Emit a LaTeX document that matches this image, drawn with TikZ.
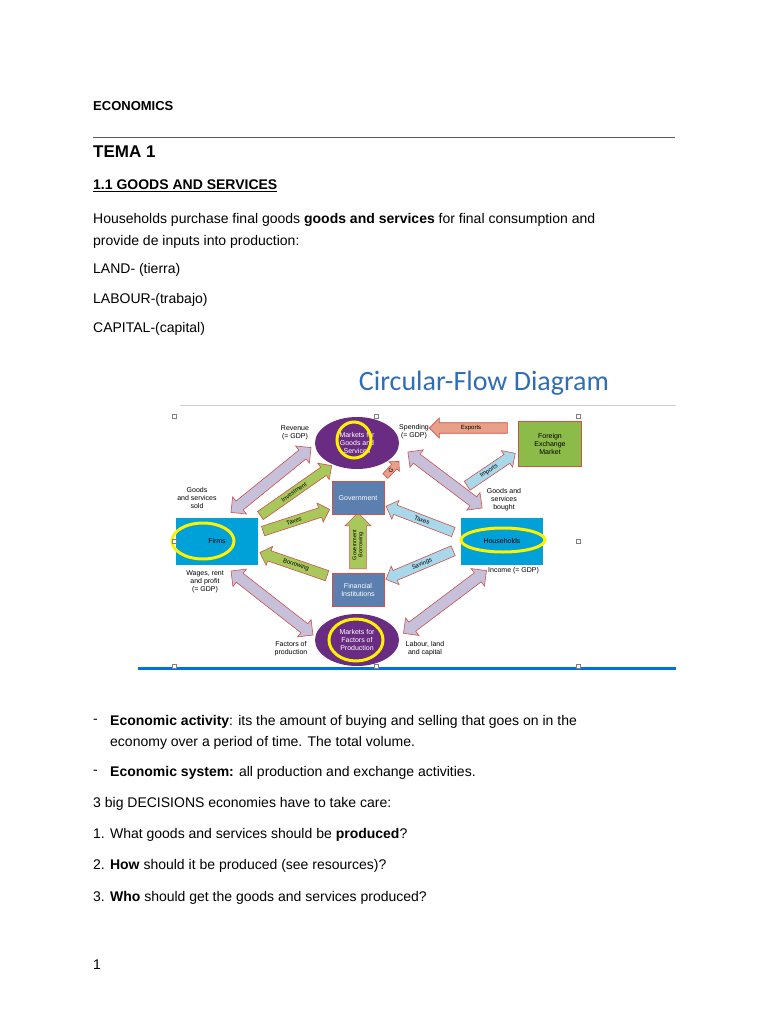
\documentclass[tikz,border=0pt]{standalone}
\usepackage{fontspec}
\setmainfont{Liberation Sans}
\newfontfamily\calib{Carlito}
\usetikzlibrary{shapes.arrows,shapes.geometric}
\definecolor{purp}{HTML}{6A2C82}
\definecolor{stb}{HTML}{5B80B0}
\definecolor{cyn}{HTML}{00A0D8}
\definecolor{grn}{HTML}{8CBB4A}
\definecolor{lgrn}{HTML}{A8C85C}
\definecolor{lav}{HTML}{C6C0DA}
\definecolor{lblu}{HTML}{A8D8EA}
\definecolor{salm}{HTML}{E8A088}
\definecolor{ttl}{HTML}{2F6DB5}
\definecolor{bdr}{HTML}{D0504A}
\tikzset{
 body/.style={anchor=base west,font=\fontsize{14}{16}\selectfont,inner sep=0},
 lab/.style={font=\fontsize{7}{8}\selectfont,align=center,inner sep=0},
 box/.style={draw=bdr,line width=1pt,minimum width=52pt,minimum height=33pt,font=\fontsize{7}{8}\selectfont,text=white,align=center},
 mkt/.style={ellipse,fill=purp,minimum width=84pt,minimum height=52pt,font=\fontsize{7}{8}\selectfont,text=white,align=center,inner sep=0},
 dbl/.style={double arrow,draw=bdr,fill=lav,line width=0.6pt,minimum width=22pt,double arrow head extend=5pt,inner sep=5pt},
 sgl/.style={single arrow,draw=bdr,line width=0.6pt,minimum width=20pt,single arrow head extend=4pt,inner sep=1.5pt,font=\fontsize{6}{6.5}\selectfont,align=center},
 hl/.style={draw=yellow,line width=3pt},
 hd/.style={draw=gray,fill=white,line width=0.4pt,minimum size=4pt,inner sep=0}
}
\begin{document}
\begin{tikzpicture}[x=1pt,y=-1pt]
\useasboundingbox (0,0) rectangle (768,1024);
\node[body,font=\bfseries\fontsize{13}{15}\selectfont] (eco) at (93,111) {ECONOMICS};
\coordinate (l1) at (93,137); \coordinate (l2) at (675,137);
\draw[line width=0.5pt,gray!70!black] (l1) -- (l2);
\node[body,font=\bfseries\fontsize{17}{19}\selectfont] (tema) at (93,158) {TEMA 1};
\node[body,font=\bfseries\fontsize{14}{16}\selectfont] (gs) at (93,190) {\underline{1.1 GOODS AND SERVICES}};
\node[body] (p1) at (93,223) {Households purchase final goods \textbf{goods and services} for final consumption and};
\node[body] (p2) at (93,245) {provide de inputs into production:};
\node[body] (p3) at (93,273) {LAND- (tierra)};
\node[body] (p4) at (93,303) {LABOUR-(trabajo)};
\node[body] (p5) at (93,332) {CAPITAL-(capital)};

% diagram
\node[font=\calib\fontsize{28}{30}\selectfont,text=ttl] (title) at (484,383) {Circular-Flow Diagram};
\coordinate (g1) at (180,405); \coordinate (g2) at (676,405);
\draw[gray!40,line width=0.8pt] (g1) -- (g2);
\coordinate (b1) at (138,668); \coordinate (b2) at (676,668);
\draw[cyn!70!blue,line width=3pt] (b1) -- (b2);

\node[dbl,minimum height=103pt,rotate=39] (d1) at (271,480) {};
\node[dbl,minimum height=93pt,rotate=-37] (d2) at (445,480) {};
\node[dbl,minimum height=104pt,rotate=-38] (d3) at (272,603) {};
\node[dbl,minimum height=104pt,rotate=37] (d4) at (445,602) {};

\node[sgl,fill=lgrn,minimum height=87pt,rotate=35] (inv) at (294,492) {Investment};
\node[sgl,fill=lgrn,minimum height=70pt,rotate=18] (tf) at (294,521) {Taxes};
\node[sgl,fill=lgrn,minimum height=71pt,rotate=-19,shape border rotate=180] (bor) at (296,565) {Borrowing};
\node[sgl,fill=lgrn,minimum height=56pt,minimum width=26pt,rotate=90,font=\fontsize{5.5}{6}\selectfont] (gb) at (358,545) {Government\\Borrowing};
\node[sgl,fill=salm,minimum height=20pt,minimum width=14pt,rotate=47,single arrow head extend=3pt,inner sep=0.5pt] (gg) at (391,470) {G};
\node[sgl,fill=lblu,minimum height=72pt,rotate=-21,shape border rotate=180] (th) at (422,520) {Taxes};
\node[sgl,fill=lblu,minimum height=73pt,rotate=23,shape border rotate=180] (sav) at (422,564) {Savings};
\node[sgl,fill=lblu,minimum height=58pt,rotate=34] (imp) at (489,471) {Imports};
\node[sgl,fill=salm,minimum height=78pt,shape border rotate=180] (exp) at (471,428) {Exports};

\node[mkt] (mg) at (357,443) {Markets for\\Goods and\\Services};
\node[mkt] (mf) at (357,640) {Markets for\\Factors of\\Production};
\node[box,fill=stb] (gov) at (358,498) {Government};
\node[box,fill=stb] (fin) at (358,590) {Financial\\Institutions};
\node[box,fill=cyn,draw=none,minimum width=82pt,minimum height=47pt] (firms) at (217,541) {\textcolor{black}{Firms}};
\node[box,fill=cyn,draw=none,minimum width=82pt,minimum height=47pt] (hh) at (502,541) {\textcolor{black}{Households}};
\node[box,fill=grn,minimum width=63pt,minimum height=45pt,text=black] (fx) at (550,444) {Foreign\\Exchange\\Market};

\node[lab] (rev) at (295,433) {Revenue\\(= GDP)};
\node[lab] (spe) at (414,432) {Spending\\(= GDP)};
\node[lab] (gss) at (197,498) {Goods\\and services\\sold};
\node[lab] (gsb) at (504,500) {Goods and\\services\\bought};
\node[lab] (wag) at (205,582) {Wages, rent\\and profit\\(= GDP)};
\node[lab,anchor=west] (inc) at (488,571) {Income (= GDP)};
\node[lab] (fop) at (291,649) {Factors of\\production};
\node[lab] (llc) at (425,649) {Labour, land\\and capital};

\node[hl,ellipse,minimum width=34pt,minimum height=36pt] (y1) at (354,440) {};
\node[hl,ellipse,minimum width=62pt,minimum height=36pt] (y2) at (203,541) {};
\node[hl,ellipse,minimum width=84pt,minimum height=24pt] (y3) at (503,540) {};
\node[hl,ellipse,minimum width=54pt,minimum height=42pt] (y4) at (356,640) {};

\foreach \x/\y [count=\i] in {174/416,376/416,578/416,174/541,578/541,174/666,376/666,578/666}
  \node[hd] (h\i) at (\x,\y) {};

% lower text
\node[body] (m1) at (93,723) {-};
\node[body] (e1) at (110,725) {\textbf{Economic activity}: its the amount of buying and selling that goes on in the};
\node[body] (e2) at (110,746) {economy over a period of time. The total volume.};
\node[body] (m2) at (93,774) {-};
\node[body] (e3) at (110,776) {\textbf{Economic system:} all production and exchange activities.};
\node[body] (e4) at (93,807) {3 big DECISIONS economies have to take care:};
\node[body] (e5) at (93,838) {1. What goods and services should be \textbf{produced}?};
\node[body] (e6) at (93,869) {2. \textbf{How} should it be produced (see resources)?};
\node[body] (e7) at (93,901) {3. \textbf{Who} should get the goods and services produced?};
\node[body] (pg) at (93,969) {1};
\end{tikzpicture}
\end{document}
